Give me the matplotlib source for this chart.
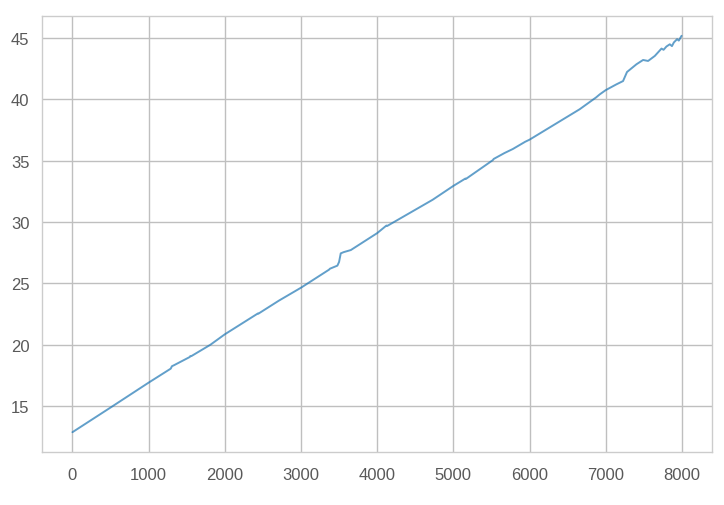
import matplotlib
matplotlib.use('Agg')
import matplotlib.pyplot as plt

# values (step index, value)
steps = [0, 500, 1000, 1290, 1306, 1330, 1540, 1548, 1560, 1811, 2000, 2434, 2440,
         2711, 3000, 3368, 3380, 3478, 3500, 3522, 3560, 3654, 4000, 4122, 4130,
         4728, 5000, 5158, 5165, 5518, 5530, 5671, 5781, 5943, 6000, 6658, 6877,
         6890, 6921, 7000, 7140, 7228, 7280, 7404, 7491, 7557, 7645, 7733, 7760,
         7798, 7842, 7870, 7895, 7938, 7960, 7996]
values = [12.87, 14.88, 16.91, 18.05, 18.25, 18.32, 19.0, 19.08, 19.07, 20.0, 20.85, 22.55, 22.53,
          23.6, 24.65, 26.12, 26.2, 26.45, 26.75, 27.45, 27.55, 27.72, 29.1, 29.72, 29.68,
          31.82, 32.95, 33.55, 33.52, 35.05, 35.15, 35.63, 35.96, 36.55, 36.72, 39.2, 40.18,
          40.25, 40.41, 40.76, 41.23, 41.5, 42.24, 42.87, 43.22, 43.14, 43.55, 44.15, 44.05,
          44.32, 44.5, 44.35, 44.65, 44.92, 44.8, 45.19]

plt.style.use('seaborn-v0_8-whitegrid')
plt.rcParams['font.family'] = ['Liberation Sans', 'DejaVu Sans']

fig = plt.figure(figsize=(7.24, 5.06), dpi=100)
ax = fig.add_axes([42 / 724, 1 - 453 / 506, 670 / 724, 436 / 506])

ax.plot(steps, values, color='#1f77b4', alpha=0.7, linewidth=1.4)

ax.tick_params(labelsize=12, colors='0.35', length=0)
ax.tick_params(axis='x', pad=11)
ax.tick_params(axis='y', pad=9)
for s in ax.spines.values():
    s.set_visible(True)
    s.set_color('0.8')
    s.set_linewidth(1)
ax.grid(True, color='0.75', linewidth=1)

fig.savefig('out.png', dpi=100)
